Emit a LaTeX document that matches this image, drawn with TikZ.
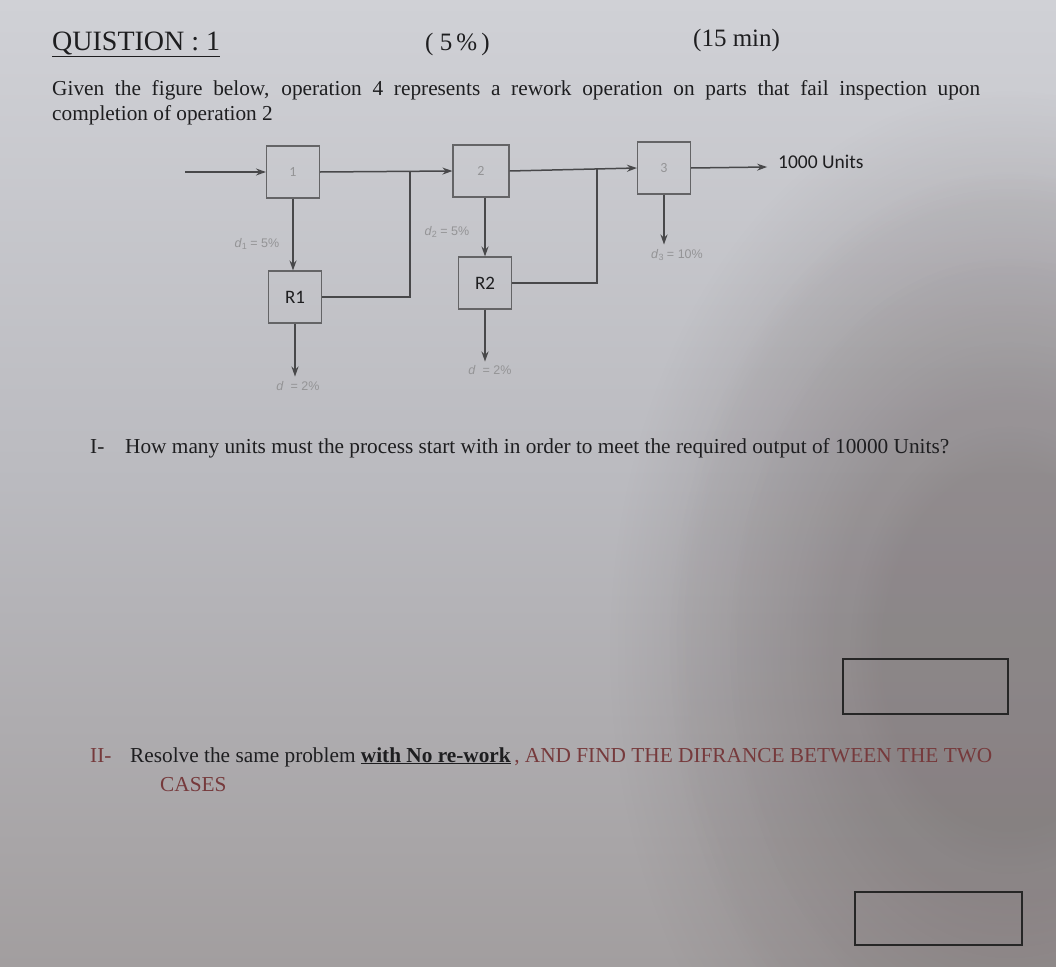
\documentclass[tikz,border=0pt]{standalone}
\usepackage{fontspec}
\setmainfont{Liberation Serif}
\newfontfamily\carl{Carlito}
\newfontfamily\lsans{Liberation Sans}
\usetikzlibrary{arrows.meta,calc,fadings}
\definecolor{bgtop}{RGB}{208,209,214}
\definecolor{bgmid}{RGB}{186,186,191}
\definecolor{bgbot}{RGB}{162,158,159}
\definecolor{shadowc}{RGB}{105,95,95}
\definecolor{linec}{RGB}{72,72,74}
\definecolor{boxc}{RGB}{100,100,102}
\definecolor{lblc}{RGB}{148,148,150}
\definecolor{txtc}{RGB}{30,30,32}
\definecolor{redc}{RGB}{118,58,60}
\tikzset{
  opbox/.style={draw=boxc, line width=1.1pt, minimum width=53pt, minimum height=52pt, inner sep=0pt, font=\carl\fontsize{14}{14}\selectfont, text=lblc},
  rbox/.style={draw=boxc, line width=1.1pt, minimum width=53pt, minimum height=52pt, inner sep=0pt, font=\carl\fontsize{19}{19}\selectfont, text=txtc},
  flow/.style={draw=linec, line width=1.5pt},
  arr/.style={flow, -{Stealth[length=10pt,width=7pt]}},
  dlbl/.style={font=\lsans\fontsize{12.5}{12.5}\selectfont, text=lblc, inner sep=0pt},
  txt/.style={inner sep=0pt, anchor=base west, text=txtc, font=\fontsize{21.3}{24}\selectfont},
  answer/.style={draw=black!85, line width=1.5pt},
  blob/.style={shadowc, opacity=0.13, path fading=circle with fuzzy edge 20 percent}
}
\newcommand{\dsub}[1]{\textit{d}\raisebox{-0.35ex}{\fontsize{9}{9}\selectfont #1}}
\begin{document}
\begin{tikzpicture}[x=1pt,y=-1pt]
\useasboundingbox (0,0) rectangle (1056,966);
\shade[top color=bgtop, bottom color=bgbot, middle color=bgmid] (0,0) rectangle (1056,966);
\foreach \s in {1.0,0.85,0.7,0.55,0.4} {
  \fill[blob] (1010,650) ellipse ({400*\s} and {560*\s});
}

% header
\node[txt, font=\fontsize{28}{28}\selectfont] (qh) at (52,50) {\underline{QUISTION : 1}};
\node[txt, font=\fontsize{25}{25}\selectfont] (pc) at (425,50) {( 5\,\%\,)};
\node[txt, font=\fontsize{25}{25}\selectfont] (tm) at (693,47) {(15 min)};

\node[txt] (p1) at (52,95) {\makebox[928pt][s]{Given the figure below, operation 4 represents a rework operation on parts that fail inspection upon}};
\node[txt] (p2) at (52,120) {completion of operation 2};

% diagram
\node[opbox] (b1) at (293,172) {1};
\node[opbox, minimum width=56pt] (b2) at (481,171) {2};
\node[opbox] (b3) at (664,168) {3};
\node[rbox] (r1) at (295,297) {R1};
\node[rbox] (r2) at (485,283) {R2};

\coordinate (in0) at (185,172);
\coordinate (j1) at (410,171.5);
\coordinate (j2) at (597,169);

\draw[arr] (in0) -- (b1.west);
\draw[arr] (b1.east) -- (b2.west);
\draw[arr] (b2.east) -- (b3.west);
\draw[arr] (b3.east) -- ++(76,-1) coordinate (out);
\draw[arr] (b1.south) -- (b1.south |- r1.north);
\draw[arr] (r1.south) -- ++(0,53) coordinate (o1);
\draw[flow] (r1.east) -| (j1);
\draw[arr] (r2.north |- b2.south) -- (r2.north);
\draw[arr] (r2.south) -- ++(0,52) coordinate (o2);
\draw[flow] (r2.east) -| (j2);
\draw[arr] (b3.south) -- ++(0,50) coordinate (o3);

\node[inner sep=0pt, anchor=west, text=txtc, font=\carl\fontsize{19.5}{19.5}\selectfont] (units) at (778,162) {1000 Units};

\node[dlbl] (l1) at (257,244) {\dsub{1} = 5\%};
\node[dlbl] (l2) at (447,232) {\dsub{2} = 5\%};
\node[dlbl] (l3) at (677,255) {\dsub{3} = 10\%};
\node[dlbl] (l4) at (298,386) {\textit{d} \ = 2\%};
\node[dlbl] (l5) at (490,370) {\textit{d} \ = 2\%};

% questions
\node[txt] (q1a) at (90,453) {I-};
\node[txt] (q1) at (125,453) {How many units must the process start with in order to meet the required output of 10000 Units?};
\draw[answer] (843,659) rectangle (1008,714);

\node[txt, text=redc] (q2a) at (90,762) {II-};
\node[txt] (q2) at (130,762) {Resolve the same problem \underline{\textbf{with No re-work}}\,\textcolor{redc}{, AND FIND THE DIFRANCE BETWEEN THE TWO}};
\node[txt, text=redc] (q2b) at (160,791) {CASES};
\draw[answer] (855,892) rectangle (1022,945);
\end{tikzpicture}
\end{document}
